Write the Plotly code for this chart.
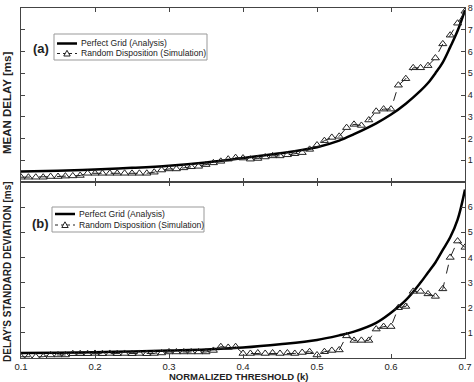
import plotly.graph_objects as go

# ---- data ----
k_sim = [round(0.10 + 0.01 * i, 2) for i in range(61)]

mean_sim = [0.22, 0.22, 0.22, 0.22, 0.25, 0.25, 0.27, 0.28, 0.30, 0.40,
            0.40, 0.40, 0.40, 0.40, 0.40, 0.40, 0.40, 0.40, 0.45, 0.55,
            0.60, 0.60, 0.65, 0.70, 0.72, 0.80, 0.88, 0.95, 1.05, 1.12,
            1.10, 1.05, 1.08, 1.15, 1.20, 1.20, 1.25, 1.30, 1.35, 1.50,
            1.70, 1.90, 2.05, 2.10, 2.50, 2.65, 2.60, 2.85, 3.25, 3.35,
            3.35, 4.45, 4.75, 5.25, 5.25, 5.35, 5.70, 6.35, 6.75, 7.30,
            7.85]

std_sim = [0.05, 0.05, 0.05, 0.05, 0.12, 0.12, 0.12, 0.17, 0.17, 0.17,
           0.18, 0.17, 0.18, 0.17, 0.18, 0.17, 0.18, 0.17, 0.18, 0.20,
           0.24, 0.24, 0.24, 0.24, 0.24, 0.24, 0.30, 0.45, 0.42, 0.45,
           0.18, 0.18, 0.20, 0.18, 0.20, 0.18, 0.20, 0.18, 0.22, 0.25,
           0.12, 0.25, 0.30, 0.32, 0.88, 0.70, 0.70, 0.70, 1.15, 1.25,
           1.25, 2.00, 2.05, 2.65, 2.65, 2.55, 2.45, 2.75, 4.00, 4.65,
           4.40]

k_an = [0.10, 0.15, 0.20, 0.25, 0.30, 0.35, 0.40, 0.45, 0.50, 0.53, 0.55,
        0.58, 0.60, 0.62, 0.64, 0.65, 0.66, 0.67, 0.68, 0.69, 0.70]
mean_an = [0.48, 0.52, 0.57, 0.65, 0.75, 0.90, 1.10, 1.32, 1.60, 1.90, 2.20,
           2.70, 3.10, 3.60, 4.20, 4.55, 5.00, 5.50, 6.20, 6.95, 7.90]
std_an = [0.20, 0.21, 0.23, 0.26, 0.30, 0.34, 0.42, 0.55, 0.72, 0.90, 1.05,
          1.40, 1.80, 2.30, 3.00, 3.40, 3.80, 4.30, 4.80, 5.50, 6.70]

x_ticks = [0.1, 0.2, 0.3, 0.4, 0.5, 0.6, 0.7]
y1_ticks = [1, 2, 3, 4, 5, 6, 7, 8]
y2_ticks = [1, 2, 3, 4, 5, 6]

name_an = "Perfect Grid (Analysis)"
name_sim = "Random Disposition (Simulation)"

FONT = "Liberation Sans, Arial, sans-serif"
AX = "#444444"
W, H = 474, 382


def px(x):
    return x / W


def py(y):
    return 1 - y / H


fig = go.Figure()

for (yv_an, yv_sim, xa, ya) in [(mean_an, mean_sim, "x", "y"),
                               (std_an, std_sim, "x2", "y2")]:
    fig.add_trace(go.Scatter(x=k_an, y=yv_an, mode="lines", name=name_an,
                             line=dict(color="black", width=2.5, shape="spline"),
                             xaxis=xa, yaxis=ya, showlegend=False))
    fig.add_trace(go.Scatter(x=k_sim, y=yv_sim, mode="lines+markers", name=name_sim,
                             line=dict(color="#222222", width=1, dash="dash"),
                             marker=dict(symbol="triangle-up-open", size=7,
                                         color="#222222", line=dict(width=1)),
                             xaxis=xa, yaxis=ya, showlegend=False))

common_x = dict(range=[0.1, 0.7], tickvals=x_ticks, ticks="inside", ticklen=4,
                tickcolor=AX, showline=True, linecolor=AX, linewidth=1,
                mirror="ticks", showgrid=False, zeroline=False,
                automargin=False, domain=[21 / W, 465 / W])
common_y = dict(ticklen=4, tickcolor=AX, showline=True, ticks="inside",
                linecolor=AX, linewidth=1, showgrid=False, mirror="ticks",
                zeroline=False, automargin=False, showticklabels=True,
                side="right", tickfont=dict(size=9))

# ---- hand-drawn legend boxes (as in the original figure) ----
shapes = []
annotations = []
legends = [  # box left, top, right, bottom, row1 y, row2 y, line x0, x1, text x
    (54, 34, 207, 60, 43.5, 53.5, 57, 77, 79),
    (52, 207, 204, 232, 214, 225, 55, 75, 77),
]
for (l, t, r, b, r1, r2, lx0, lx1, tx) in legends:
    shapes.append(dict(type="rect", xref="paper", yref="paper",
                       x0=px(l), x1=px(r), y0=py(b), y1=py(t),
                       line=dict(color="#999999", width=1), fillcolor="white",
                       layer="above"))
    shapes.append(dict(type="line", xref="paper", yref="paper",
                       x0=px(lx0), x1=px(lx1), y0=py(r1), y1=py(r1),
                       line=dict(color="black", width=2.5), layer="above"))
    shapes.append(dict(type="line", xref="paper", yref="paper",
                       x0=px(lx0), x1=px(lx1), y0=py(r2), y1=py(r2),
                       line=dict(color="#222222", width=1, dash="dot"),
                       layer="above"))
    cx = (lx0 + lx1) / 2
    tri = "M {:.5f},{:.5f} L {:.5f},{:.5f} L {:.5f},{:.5f} Z".format(
        px(cx - 3.2), py(r2 + 2.5), px(cx + 3.2), py(r2 + 2.5), px(cx), py(r2 - 3.2))
    shapes.append(dict(type="path", xref="paper", yref="paper", path=tri,
                       line=dict(color="#222222", width=1), fillcolor="white",
                       layer="above"))
    for (txt, yy) in [(name_an, r1), (name_sim, r2)]:
        annotations.append(dict(text=txt, x=px(tx), y=py(yy), xref="paper",
                                yref="paper", xanchor="left", yanchor="middle",
                                showarrow=False, font=dict(size=8.6)))

for (txt, xx, yy, ang, fs) in [
        ("<b>(a)</b>", 41, 48, 0, 13),
        ("<b>(b)</b>", 40, 223, 0, 13),
        ("<b>MEAN DELAY [ms]</b>", 7, 103, -90, 11.5),
        ("<b>DELAY'S STANDARD DEVIATION [ms]</b>", 7, 272, -90, 10),
        ("<b>NORMALIZED THRESHOLD (k)</b>", 238, 376, 0, 9.5)]:
    annotations.append(dict(text=txt, x=px(xx), y=py(yy), xref="paper",
                            yref="paper", xanchor="center", yanchor="middle",
                            showarrow=False, textangle=ang,
                            font=dict(size=fs)))

fig.update_layout(
    template="none",
    width=W, height=H,
    margin=dict(l=0, r=0, t=0, b=0, pad=0),
    paper_bgcolor="white", plot_bgcolor="white",
    font=dict(family=FONT, size=9, color="#222222"),
    showlegend=False,
    xaxis=dict(**common_x, anchor="y", showticklabels=False),
    xaxis2=dict(**common_x, anchor="y2", tickfont=dict(size=9.5)),
    yaxis=dict(**common_y, range=[0, 8], tickvals=y1_ticks, anchor="x",
               domain=[py(182), py(8)]),
    yaxis2=dict(**common_y, range=[0, 7], tickvals=y2_ticks, anchor="x2",
                domain=[py(358), py(182)]),
    shapes=shapes,
    annotations=annotations,
)

fig.write_html("out.html", config={"displayModeBar": False},
               post_script="document.body.style.margin='0';"
                           "document.body.style.padding='0';")
